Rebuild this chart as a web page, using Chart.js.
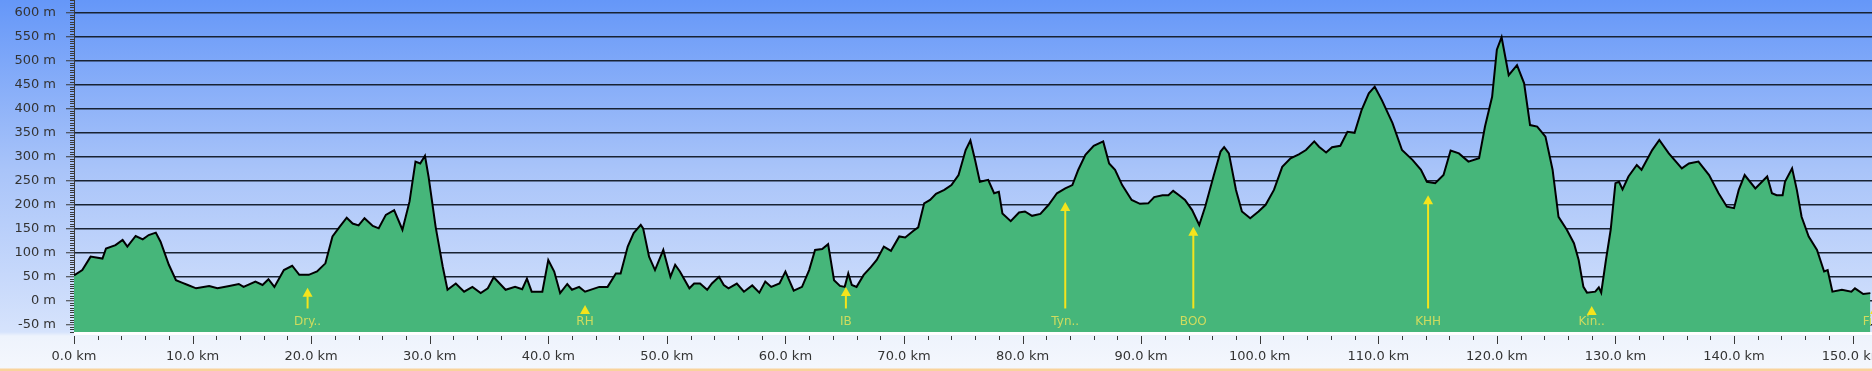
<!DOCTYPE html>
<html>
<head>
<meta charset="utf-8">
<script src="https://cdn.jsdelivr.net/npm/chart.js@4/dist/chart.umd.min.js"></script>
<style>
  html, body { margin: 0; padding: 0; width: 1872px; height: 371px; overflow: hidden; }
  body {
    background: linear-gradient(to bottom, #6597f8 0px, #a9c4f9 170px, #d6e3fc 332px,
      #eef3fc 336px, #f4f7fd 368px, #f9d39c 369px, #f9d39c 371px);
  }
  #wrap { position: relative; width: 1900px; height: 371px; }
</style>
</head>
<body>
<div id="wrap"><canvas id="profile"></canvas></div>
<script>
// elevation profile, distance in km / elevation in m
const distKm = [0.0, 0.7, 1.4, 2.4, 2.7, 3.5, 4.1, 4.5, 5.2, 5.8, 6.3, 6.9, 7.3, 8.0, 8.6, 9.1, 9.6, 10.3,
  11.4, 12.1, 13.1, 13.9, 14.3, 15.3, 15.9, 16.4, 16.9, 17.7, 18.4, 19.0, 19.8, 20.5, 21.2, 21.8, 22.4,
  23.0, 23.5, 24.0, 24.5, 25.2, 25.7, 26.3, 27.0, 27.7, 28.3, 28.8, 29.2, 29.6, 29.9, 30.5, 31.1, 31.5,
  32.2, 32.9, 33.6, 34.3, 34.9, 35.4, 36.4, 37.2, 37.8, 38.2, 38.6, 39.5, 40.0, 40.5, 41.0, 41.6, 42.0,
  42.6, 43.1, 44.3, 45.0, 45.7, 46.1, 46.7, 47.2, 47.8, 48.0, 48.5, 49.0, 49.3, 49.7, 50.3, 50.7, 51.1,
  51.9, 52.3, 52.8, 53.4, 53.8, 54.4, 54.8, 55.2, 55.9, 56.5, 57.2, 57.8, 58.3, 58.8, 59.5, 60.0, 60.7,
  61.4, 62.0, 62.5, 63.1, 63.6, 64.1, 64.6, 65.0, 65.3, 65.6, 66.0, 66.6, 67.2, 67.7, 68.3, 68.9, 69.6,
  70.1, 70.8, 71.2, 71.7, 72.2, 72.7, 73.4, 74.0, 74.6, 75.2, 75.6, 76.0, 76.4, 77.1, 77.6, 78.0, 78.3,
  79.0, 79.7, 80.2, 80.8, 81.5, 82.2, 82.9, 83.6, 84.2, 84.7, 85.3, 86.0, 86.8, 87.3, 87.8, 88.4, 89.2,
  89.9, 90.6, 91.1, 91.8, 92.3, 92.7, 93.2, 93.7, 94.3, 94.9, 95.4, 96.1, 96.7, 97.0, 97.4, 98.0, 98.5,
  99.2, 99.9, 100.5, 101.2, 101.9, 102.6, 103.3, 103.9, 104.6, 105.0, 105.6, 106.1, 106.8, 107.4, 108.0,
  108.6, 109.2, 109.7, 110.3, 111.2, 112.0, 112.9, 113.6, 114.1, 114.8, 115.5, 116.1, 116.8, 117.6,
  118.5, 119.0, 119.6, 120.0, 120.4, 121.0, 121.7, 122.3, 122.8, 123.4, 124.1, 124.7, 125.2, 125.9,
  126.5, 126.9, 127.3, 127.6, 128.3, 128.6, 128.8, 129.2, 129.6, 130.0, 130.3, 130.6, 131.1, 131.8,
  132.2, 133.1, 133.7, 134.5, 135.6, 136.2, 137.0, 137.9, 138.7, 139.4, 140.0, 140.4, 140.9, 141.8,
  142.8, 143.2, 143.6, 144.1, 144.3, 144.9, 145.3, 145.7, 146.3, 147.0, 147.6, 147.9, 148.3, 149.1,
  149.9, 150.2, 150.9, 151.5];
const elevM = [52, 63, 91, 87, 108, 115, 126, 112, 134, 127, 136, 141, 122, 74, 42, 37, 32, 25,
  30, 25, 30, 34, 28, 39, 32, 44, 28, 63, 72, 53, 53, 60, 77, 133, 153,
  172, 160, 156, 171, 155, 150, 178, 188, 147, 206, 289, 285, 301, 258, 153, 70, 22,
  35, 18, 28, 15, 25, 48, 22, 28, 23, 45, 18, 18, 84, 60, 15, 34, 22,
  28, 18, 28, 28, 56, 56, 112, 140, 157, 150, 91, 63, 81, 105, 49, 74, 60,
  25, 35, 35, 22, 35, 49, 32, 25, 35, 18, 31, 16, 39, 28, 35, 60, 20,
  28, 63, 105, 107, 117, 42, 30, 28, 56, 32, 28, 53, 69, 84, 112, 103, 133,
  131, 145, 152, 202, 209, 222, 230, 240, 261, 313, 333, 292, 247, 251, 223, 226, 181,
  165, 183, 185, 176, 180, 199, 223, 233, 240, 272, 303, 322, 331, 285, 272, 240, 209,
  201, 202, 215, 219, 219, 228, 219, 209, 188, 157, 195, 258, 310, 319, 306, 230, 185,
  171, 185, 199, 230, 278, 296, 304, 313, 331, 320, 308, 319, 322, 351, 349,
  397, 431, 445, 417, 369, 313, 292, 272, 247, 244, 261, 312, 306, 289,
  296, 362, 424, 522, 548, 469, 490, 452, 365, 362, 341, 272, 174, 147,
  119, 84, 28, 16, 18, 27, 16, 84, 147, 244, 247, 231, 258, 282,
  272, 313, 334, 306, 275, 285, 289, 261, 223, 195, 192, 230, 261, 233,
  258, 223, 219, 219, 247, 275, 230, 174, 133, 105, 60, 63, 18, 22,
  18, 25, 13, 15];

const yTicks = [-50, 0, 50, 100, 150, 200, 250, 300, 350, 400, 450, 500, 550, 600];
const xTicks = [0, 10, 20, 30, 40, 50, 60, 70, 80, 90, 100, 110, 120, 130, 140, 150];

// waypoints: position, elevation the arrow points to, label
const wpKm = [19.7, 43.1, 65.1, 83.6, 94.4, 114.2, 128.0, 151.9];
const wpElev = [26, -10, 28, 205, 153, 219, -12, -10];
const wpLabel = ['Dry..', 'RH', 'IB', 'Tyn..', 'BOO', 'KHH', 'Kin..', 'Fin..'];

const FONT = 'DejaVu Sans';

// minor ticks, the white strip under the profile and the waypoint arrows
const decorations = {
  id: 'decorations',
  afterDatasetsDraw(chart) {
    const ctx = chart.ctx;
    const xs = chart.scales.x, ys = chart.scales.y;
    const area = chart.chartArea;
    ctx.save();

    ctx.fillStyle = '#ffffff';
    ctx.fillRect(area.left, area.bottom, area.right - area.left, 3);

    ctx.strokeStyle = '#3a3a3a';
    ctx.lineWidth = 1;
    ctx.beginPath();
    for (let k = 0; k <= xs.max; k += 2) {
      const px = Math.round(xs.getPixelForValue(k)) + 0.5;
      const major = k % 10 === 0;
      ctx.moveTo(px, area.bottom + 4);
      ctx.lineTo(px, area.bottom + (major ? 12 : 8));
    }
    for (let m = -65; m <= ys.max; m += 5) {
      if (m % 50 === 0) continue;
      const py = Math.round(ys.getPixelForValue(m)) + 0.5;
      ctx.moveTo(area.left - 4, py);
      ctx.lineTo(area.left, py);
    }
    ctx.stroke();

    const bottomY = ys.getPixelForValue(-17);
    const labelY = ys.getPixelForValue(-45);
    wpKm.forEach((km, i) => {
      const x = xs.getPixelForValue(km);
      const tip = ys.getPixelForValue(wpElev[i]);
      ctx.fillStyle = '#f4e41c';
      ctx.strokeStyle = '#f4e41c';
      ctx.beginPath();
      ctx.moveTo(x, tip);
      ctx.lineTo(x - 5, tip + 9);
      ctx.lineTo(x + 5, tip + 9);
      ctx.closePath();
      ctx.fill();
      if (bottomY > tip + 9) {
        ctx.lineWidth = 2;
        ctx.beginPath();
        ctx.moveTo(x, tip + 8);
        ctx.lineTo(x, bottomY);
        ctx.stroke();
      }
      ctx.fillStyle = '#cfdc5e';
      ctx.font = '12px "' + FONT + '"';
      ctx.textAlign = 'center';
      ctx.textBaseline = 'middle';
      ctx.fillText(wpLabel[i], x, labelY);
    });
    ctx.restore();
  }
};

new Chart(document.getElementById('profile'), {
  type: 'line',
  data: {
    datasets: [{
      data: distKm.map((d, i) => ({ x: d, y: elevM[i] })),
      borderColor: '#000000',
      borderWidth: 2,
      backgroundColor: '#46b67a',
      fill: 'start',
      pointRadius: 0,
      tension: 0
    }]
  },
  options: {
    responsive: true,
    maintainAspectRatio: false,
    animation: false,
    layout: { padding: 0 },
    plugins: { legend: { display: false }, tooltip: { enabled: false } },
    scales: {
      x: {
        type: 'linear',
        min: 0,
        max: 154,
        afterBuildTicks: s => { s.ticks = xTicks.map(v => ({ value: v })); },
        afterFit: s => { s.height = 39; s.paddingLeft = 0; s.paddingRight = 0; },
        grid: { display: false, drawTicks: false },
        border: { display: false },
        ticks: {
          padding: 17,
          maxRotation: 0,
          autoSkip: false,
          color: '#333333',
          font: { family: FONT, size: 13 },
          callback: v => v.toFixed(1) + ' km'
        }
      },
      y: {
        min: -66,
        max: 625.6,
        afterBuildTicks: s => { s.ticks = yTicks.map(v => ({ value: v })); },
        afterFit: s => { s.width = 74; s.paddingTop = 0; s.paddingBottom = 0; },
        grid: { color: '#182233', lineWidth: 1.5, tickLength: 8, tickColor: '#3a3a3a', tickWidth: 1 },
        border: { display: true, color: '#3a3a3a', width: 1 },
        ticks: {
          padding: 10,
          color: '#333333',
          font: { family: FONT, size: 13 },
          callback: v => v + ' m'
        }
      }
    }
  },
  plugins: [decorations]
});
</script>
</body>
</html>
